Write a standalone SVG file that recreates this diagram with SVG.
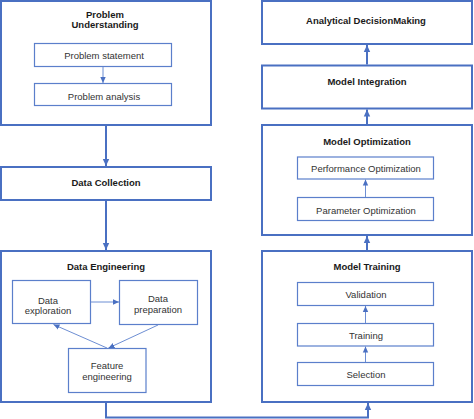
<svg xmlns="http://www.w3.org/2000/svg" width="474" height="419" viewBox="0 0 474 419">
<defs>
<style>
.outer{fill:#fff;stroke:#4a70c2;stroke-width:2}
.inner{fill:#fff;stroke:#5b7fcb;stroke-width:1.2}
.title{font-family:"Liberation Sans",Arial,sans-serif;font-size:9.5px;font-weight:bold;fill:#1a1a1a;text-anchor:middle}
.lbl{font-family:"Liberation Sans",Arial,sans-serif;font-size:9.5px;fill:#333;text-anchor:middle}
.main{fill:none;stroke:#4a70c2;stroke-width:2}
.thin{fill:none;stroke:#6d8ed3;stroke-width:1}
</style>
<marker id="ah" markerUnits="userSpaceOnUse" markerWidth="8" markerHeight="8" viewBox="0 0 8 8" refX="7" refY="4" orient="auto">
<path d="M0,0.8 L7,4 L0,7.2 Z" fill="#4a70c2"/>
</marker>
<marker id="ahs" markerUnits="userSpaceOnUse" markerWidth="7" markerHeight="7" viewBox="0 0 7 7" refX="6" refY="3.5" orient="auto">
<path d="M0,0.8 L6,3.5 L0,6.2 Z" fill="#4a70c2"/>
</marker>
</defs>
<rect width="474" height="419" fill="#fff"/>

<g id="problem-understanding">
<rect class="outer" x="1" y="1" width="210" height="124"/>
<text class="title" x="105" y="17.5">Problem</text>
<text class="title" x="105" y="27.5">Understanding</text>
</g>
<g id="problem-statement">
<rect class="inner" x="34.5" y="43.5" width="137" height="23"/>
<text class="lbl" x="104" y="58.5">Problem statement</text>
</g>
<g id="problem-analysis">
<rect class="inner" x="34.5" y="83.5" width="137" height="22"/>
<text class="lbl" x="104" y="100">Problem analysis</text>
</g>

<g id="data-collection">
<rect class="outer" x="1" y="167" width="210" height="33"/>
<text class="title" x="106" y="186">Data Collection</text>
</g>

<g id="data-engineering">
<rect class="outer" x="1" y="251" width="210" height="151"/>
<text class="title" x="106" y="270">Data Engineering</text>
</g>
<g id="data-exploration">
<rect class="inner" x="12.5" y="280.5" width="78" height="43"/>
<text class="lbl" x="48" y="303.5">Data</text>
<text class="lbl" x="48" y="313.5">exploration</text>
</g>
<g id="data-preparation">
<rect class="inner" x="119.5" y="280.5" width="78" height="44"/>
<text class="lbl" x="158" y="302">Data</text>
<text class="lbl" x="158" y="312.5">preparation</text>
</g>
<g id="feature-engineering">
<rect class="inner" x="68.5" y="348.5" width="77.5" height="44"/>
<text class="lbl" x="107" y="369">Feature</text>
<text class="lbl" x="107" y="380">engineering</text>
</g>

<g id="analytical-decision-making">
<rect class="outer" x="262" y="1" width="210" height="43"/>
<text class="title" x="366" y="23.5">Analytical DecisionMaking</text>
</g>
<g id="model-integration">
<rect class="outer" x="262" y="65.5" width="210" height="43"/>
<text class="title" x="367" y="84.5">Model Integration</text>
</g>
<g id="model-optimization">
<rect class="outer" x="262" y="125" width="210" height="110"/>
<text class="title" x="367" y="144.5">Model Optimization</text>
</g>
<g id="performance-optimization">
<rect class="inner" x="297.5" y="157" width="136" height="22"/>
<text class="lbl" x="366" y="171.5">Performance Optimization</text>
</g>
<g id="parameter-optimization">
<rect class="inner" x="297.5" y="197.5" width="136" height="23"/>
<text class="lbl" x="366" y="213.5">Parameter Optimization</text>
</g>

<g id="model-training">
<rect class="outer" x="262" y="251" width="210" height="151"/>
<text class="title" x="367" y="270">Model Training</text>
</g>
<g id="validation">
<rect class="inner" x="297.5" y="282.5" width="136" height="23"/>
<text class="lbl" x="366" y="297.5">Validation</text>
</g>
<g id="training">
<rect class="inner" x="297.5" y="323.5" width="136" height="22.5"/>
<text class="lbl" x="366" y="339">Training</text>
</g>
<g id="selection">
<rect class="inner" x="297.5" y="362.5" width="136" height="23"/>
<text class="lbl" x="366" y="378">Selection</text>
</g>

<g id="connectors">
<path class="main" d="M106,126 V166" marker-end="url(#ah)"/>
<path class="main" d="M106,201 V250" marker-end="url(#ah)"/>
<path class="main" d="M106,403 V417.5 H368 V403" marker-end="url(#ah)"/>
<path class="main" d="M367,250 V236" marker-end="url(#ah)"/>
<path class="main" d="M367,124 V109.5" marker-end="url(#ah)"/>
<path class="main" d="M367,64.5 V45" marker-end="url(#ah)"/>
<path class="thin" d="M103,67 V83" marker-end="url(#ahs)"/>
<path class="thin" d="M365.5,197 V179.5" marker-end="url(#ahs)"/>
<path class="thin" d="M365.5,323 V306" marker-end="url(#ahs)"/>
<path class="thin" d="M365.5,362 V346.5" marker-end="url(#ahs)"/>
<path class="thin" d="M91,302 H119" marker-end="url(#ahs)"/>
<path class="thin" d="M107,348 L53.5,324.5" marker-end="url(#ahs)"/>
<path class="thin" d="M158,325 L108.5,348" marker-end="url(#ahs)"/>
</g>
</svg>
